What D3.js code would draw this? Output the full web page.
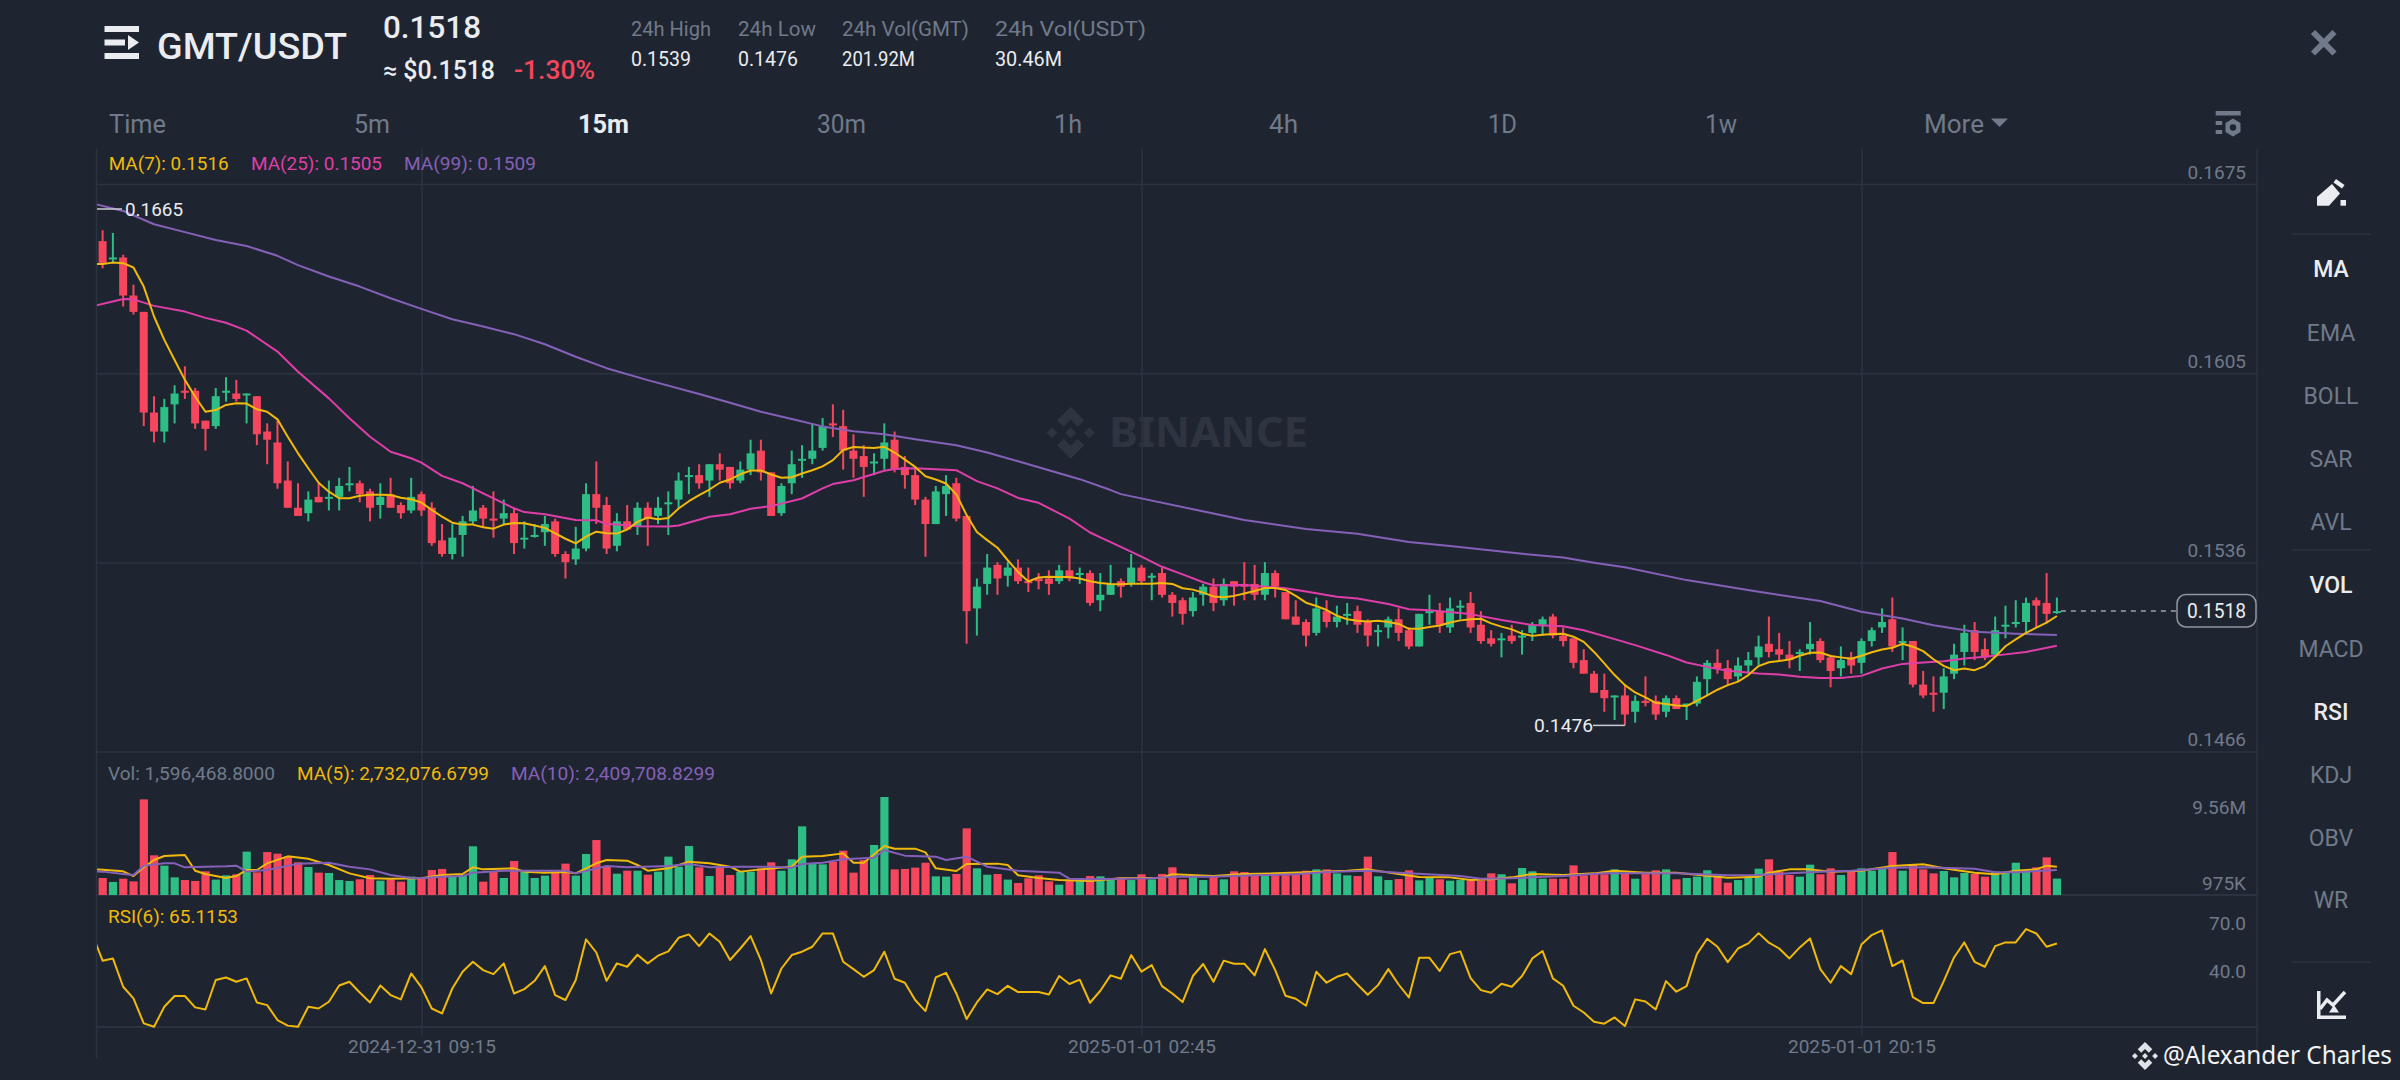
<!DOCTYPE html>
<html><head><meta charset="utf-8">
<script src="https://cdn.jsdelivr.net/npm/d3@7/dist/d3.min.js"></script>
<style>html,body{margin:0;padding:0;background:#1f2530;overflow:hidden}svg{display:block}</style>
</head><body>
<svg id="c" width="2400" height="1080"></svg>
<script>
const open=[
.1654,.1648,.1648,.1634,.1628,.1591,.1584,.1594,.1599,.1599,
.1588,.1586,.1599,.1598,.1598,.1597,.1584,.1580,.1566,.1556,
.1554,.1560,.1560,.1560,.1565,.1565,.1562,.1557,.1561,.1557,
.1555,.1561,.1556,.1544,.1539,.1546,.1551,.1556,.1552,.1552,
.1554,.1545,.1546,.1547,.1551,.1539,.1537,.1541,.1561,.1557,
.1542,.1551,.1549,.1556,.1553,.1558,.1559,.1568,.1568,.1566,
.1572,.1571,.1566,.1570,.1577,.1569,.1554,.1565,.1574,.1574,
.1578,.1587,.1586,.1577,.1575,.1573,.1574,.1581,.1571,.1568,
.1559,.1550,.1561,.1565,.1553,.1519,.1528,.1535,.1531,.1534,
.1529,.1530,.1530,.1529,.1533,.1532,.1532,.1522,.1524,.1529,
.1528,.1534,.1531,.1532,.1524,.1522,.1518,.1524,.1527,.1522,
.1529,.1528,.1528,.1524,.1532,.1525,.1516,.1514,.1510,.1518,
.1514,.1517,.1518,.1514,.1511,.1512,.1515,.1511,.1505,.1518,
.1518,.1512,.1520,.1521,.1513,.1508,.1508,.1509,.1509,.1510,
.1513,.1516,.1509,.1508,.1500,.1495,.1489,.1487,.1487,.1481,
.1485,.1485,.1481,.1486,.1484,.1484,.1493,.1499,.1497,.1494,
.1498,.1501,.1506,.1504,.1502,.1503,.1504,.1507,.1501,.1497,
.1501,.1499,.1507,.1512,.1515,.1507,.1507,.1491,.1488,.1488,
.1495,.1503,.1511,.1504,.1502,.1513,.1514,.1514,.1522,.1521,
.1518];
const close=[
.1646,.1648,.1634,.1628,.1591,.1584,.1593,.1598,.15989,.1587,
.1585,.1597,.1599,.1596,.1598,.1583,.1581,.1565,.1556,.1553,
.1559,.1558,.1560,.1564,.1565,.1561,.1556,.1560,.1556,.1554,
.1560,.1555,.1543,.1539,.1545,.1551,.1555,.1552,.15519,.1554,
.1543,.1545,.1546,.1550,.1539,.1536,.1541,.1561,.1556,.1541,
.1551,.1548,.1556,.1552,.1556,.1558,.1566,.1568,.1565,.1572,
.1570,.1565,.1570,.1576,.1569,.1553,.1564,.1572,.1574,.1577,
.1586,.15869,.1577,.1574,.1571,.1573,.1580,.1570,.1568,.1559,
.1550,.1562,.1564,.1552,.1518,.1527,.1534,.1530,.1534,.1529,
.15289,.1529,.1528,.1533,.1530,.1532,.1521,.1524,.1528,.1527,
.1534,.1529,.1531,.1524,.1521,.1517,.1523,.1527,.1521,.1528,
.1527,.1527,.1524,.1532,.1527,.1515,.1513,.1509,.1519,.1514,
.1516,.1517,.1513,.1509,.1511,.1515,.1510,.1505,.1517,.1518,
.1513,.1519,.1520,.1512,.1507,.1506,.1508,.1507,.1509,.1513,
.1515,.1509,.1507,.1499,.1495,.1488,.1486,.1487,.1480,.1485,
.14849,.1480,.1486,.1482,.1484,.1492,.1499,.1497,.1493,.1498,
.1500,.1505,.1503,.1502,.1500,.1503,.1506,.1500,.1496,.1500,
.1498,.1507,.1511,.1514,.1505,.1507,.1491,.1487,.14879,.1494,
.1502,.1510,.1503,.1501,.1511,.1513,.1514,.1521,.1520,.1517,
.1518];
const high=[
.1658,.1657,.1649,.1638,.1628,.1597,.1596,.1601,.1608,.1600,
.1588,.1600,.1604,.1603,.1598,.1597,.1587,.1588,.1573,.1565,
.1562,.1565,.1566,.1567,.1571,.1566,.1563,.1565,.1567,.1558,
.1567,.1562,.1558,.1550,.1550,.1553,.1564,.1557,.1562,.1559,
.1556,.1551,.1550,.1553,.1552,.1540,.1549,.1565,.1573,.1560,
.1554,.1557,.1558,.1558,.1560,.1562,.1569,.1571,.1572,.1572,
.1576,.1571,.1573,.1581,.1581,.1569,.1565,.1577,.1579,.1587,
.1589,.1594,.1592,.1583,.1579,.1576,.1587,.1584,.1575,.1571,
.1560,.1564,.1568,.1567,.1553,.1530,.1539,.1536,.1536,.1537,
.1534,.1532,.1533,.1535,.1542,.1534,.1533,.1532,.1535,.1530,
.1539,.1535,.1532,.1534,.1525,.1523,.1525,.1528,.1530,.1530,
.1529,.1536,.1535,.1536,.1533,.1525,.1522,.1515,.1523,.1522,
.1520,.1521,.1520,.1515,.1513,.1516,.1519,.1512,.1517,.1524,
.1521,.1523,.1522,.1525,.1518,.1511,.1510,.1513,.1511,.1514,
.1516,.1517,.1512,.1508,.1504,.1496,.1495,.1487,.1491,.1487,
.1494,.1487,.1487,.1487,.1484,.1494,.1500,.1504,.1500,.1501,
.1503,.1509,.1516,.1510,.1507,.1504,.1514,.1508,.1502,.1505,
.1503,.1508,.1512,.1519,.1523,.1512,.1507,.1496,.1494,.1497,
.1506,.1513,.1514,.1508,.1516,.1520,.1522,.1523,.1523,.1532,
.1523];
const low=[
.1644,.1646,.1630,.1627,.1586,.1580,.1580,.1587,.1596,.1585,
.1577,.1585,.1595,.1595,.1587,.1579,.1572,.1563,.1556,.1553,
.1551,.1558,.1555,.1555,.1562,.1558,.1551,.1552,.1556,.1552,
.1554,.1553,.1542,.1538,.1537,.1538,.1550,.1549,.1545,.1550,
.1539,.1541,.1545,.1542,.1538,.1530,.1535,.1540,.1550,.1539,
.1540,.1548,.1546,.1542,.1550,.1546,.1556,.1561,.1563,.1560,
.1566,.1563,.1565,.1568,.1566,.1553,.1553,.1561,.1567,.1572,
.1577,.1582,.1570,.1567,.1560,.1568,.1570,.1569,.1563,.1557,
.1538,.1550,.1553,.1551,.1506,.1509,.1524,.1524,.1527,.1528,
.1525,.1526,.1524,.1528,.1529,.1528,.1520,.1518,.1524,.1523,
.1527,.1528,.1522,.1523,.1516,.1513,.1516,.1520,.1518,.1520,
.1520,.1522,.1522,.1522,.1523,.1515,.1513,.1505,.1509,.1512,
.1512,.1513,.1510,.1505,.1505,.1508,.1507,.1504,.1505,.1513,
.1510,.1510,.1515,.1510,.1506,.1505,.1501,.1506,.1502,.1507,
.1509,.1508,.1505,.1497,.1495,.1488,.1481,.1478,.1476,.1477,
.1483,.1478,.1479,.1482,.1478,.1483,.1487,.1495,.1491,.1492,
.1495,.1498,.1501,.1500,.1497,.1496,.1502,.1499,.1490,.1494,
.1495,.1495,.1505,.1510,.1503,.1500,.1490,.1486,.1481,.1482,
.1493,.1498,.1500,.1500,.1501,.1508,.1512,.1510,.1512,.1514,
.1517];
// MA(7) per candle, first entry is the candle just off the left edge
const ma7=[.16456,
.16456,.16461,.16459,.16443,.16373,.16263,.16177,.16103,.1603,.15968,
.15913,.15919,.15938,.15944,.15943,.15922,.15913,.15885,.15821,.1576,
.15705,.15652,.15619,.15595,.15595,.15604,.15608,.15608,.15607,.15597,
.15591,.15579,.15552,.15527,.15505,.15498,.15498,.15488,.15483,.15498,
.15504,.15503,.15495,.15486,.15466,.15446,.15429,.15454,.15472,.15466,
.15465,.1548,.15508,.15524,.15518,.15522,.15557,.15584,.15606,.15627,
.15652,.15664,.15683,.15697,.15697,.15682,.1567,.15672,.15686,.15698,
.15712,.15735,.15772,.15783,.15781,.1578,.15784,.15763,.15737,.1571,
.15676,.15664,.15649,.15609,.15533,.15471,.15441,.15413,.15367,.15324,
.15289,.15304,.15306,.15305,.15305,.153,.1529,.15283,.1528,.15279,
.15281,.15281,.15281,.15283,.1528,.15264,.15259,.15248,.15234,.15231,
.15236,.15245,.15254,.15265,.15265,.15258,.15236,.15211,.15199,.15184,
.15163,.1515,.15145,.15142,.15145,.1514,.15133,.15115,.15115,.15122,
.15127,.15138,.15146,.1515,.15152,.15135,.15123,.15113,.15097,.15089,
.15093,.15096,.15097,.15086,.15067,.1503,.14988,.14945,.14908,.14881,
.14863,.14843,.14839,.14833,.14831,.1485,.1487,.14891,.14908,.14921,
.14945,.14978,.14992,.14997,.15002,.15016,.15027,.15028,.15015,.1501,
.15005,.15016,.15029,.15039,.15045,.1506,.15049,.15033,.15003,.14979,
.14963,.14969,.14963,.14978,.15012,.15051,.15076,.151,.15119,.15138,
.15162];
const ma25Index=[-1,2,3,5,8,10,12,14,17,19,22,24,26,28,30,31,33,35,37,40,41,43,46,48,49,50,52,55,56,59,61,63,65,68,70,71,73,76,77,79,83,85,87,89,91,94,96,97,99,101,103,105,107,108,111,115,117,120,122,125,127,129,133,136,139,142,144,146,149,152,154,156,158,161,163,165,167,169,171,173,175,177,179,181,183,185,187,190];
const ma25=[.1630,.16327,.16326,.16302,.16281,.16258,.1624,.16211,.16134,.1606,.15962,.15889,.15821,.15766,.15742,.15726,.15677,.1565,.15613,.15558,.15544,.15536,.15515,.15514,.155,.15498,.15492,.15491,.15495,.15527,.15536,.15556,.15566,.15594,.15631,.15647,.15661,.15696,.15702,.15705,.15698,.15658,.15631,.15596,.15578,.1552,.15469,.15451,.15416,.1538,.15343,.15315,.15286,.15275,.15276,.15264,.15252,.15233,.15226,.15206,.15187,.15183,.15169,.15147,.15129,.15124,.1511,.15088,.15055,.15019,.14991,.14975,.14961,.14951,.14947,.14939,.14934,.14934,.14942,.14969,.14986,.14991,.14996,.15006,.15012,.15021,.1503,.15053];
const ma99Index=[-1,2,5,8,11,14,17,19,22,25,28,31,34,37,40,43,46,49,53,58,61,64,67,70,73,76,79,83,86,89,92,95,98,99,111,117,122,127,131,138,142,145,148,154,161,167,171,175,178,182,186,190];
const ma99=[.16679,.16651,.16602,.16573,.16544,.16522,.16486,.16452,.1641,.16373,.1633,.16291,.16253,.16226,.16198,.16161,.16115,.16073,.16029,.15978,.15946,.15913,.15886,.15859,.15841,.1583,.15812,.1579,.15763,.15731,.15698,.15665,.15625,.1561,.15515,.15482,.15464,.15434,.15419,.15391,.15377,.15358,.15341,.15294,.15251,.15217,.15178,.15153,.15128,.15104,.15097,.15092];
const volumeM=[
1.66,1.27,1.59,1.33,9.33,3.87,2.86,1.72,1.46,1.37,
2.31,1.50,1.92,2.02,4.23,2.21,4.19,4.03,3.74,3.19,
2.73,2.18,2.15,1.46,1.37,1.53,1.95,1.40,1.53,1.30,
1.79,1.59,2.44,2.54,1.79,1.95,4.75,1.30,2.28,1.66,
3.32,2.28,1.66,1.89,2.21,3.06,1.89,4.00,5.36,2.76,
2.08,2.37,2.37,1.98,2.28,3.74,2.76,4.78,2.70,1.85,
2.76,1.95,2.28,2.28,2.60,3.19,2.37,3.48,6.70,3.02,
2.99,3.25,4.32,2.18,3.41,4.88,9.56,2.50,2.54,2.67,
3.15,1.82,1.79,2.05,6.50,2.60,1.98,2.05,1.50,1.17,
1.63,1.92,1.33,1.01,1.43,1.40,1.85,1.82,1.63,1.72,
1.46,2.02,1.53,2.05,2.70,1.53,1.79,1.46,1.79,1.53,
2.31,2.24,1.92,2.05,2.11,2.24,2.05,2.37,2.50,2.50,
2.11,1.92,1.85,3.74,1.82,1.46,1.56,2.41,1.43,1.76,
1.53,1.40,1.46,1.40,1.40,2.11,2.02,1.14,2.63,2.31,
1.59,1.59,1.59,2.89,1.92,2.11,2.02,2.50,2.11,1.59,
2.11,2.41,2.50,1.53,1.66,1.79,2.41,1.85,1.20,1.46,
1.66,2.57,3.48,2.28,1.95,1.79,2.96,2.02,2.60,1.95,
2.37,2.60,2.37,2.73,4.19,2.37,2.93,2.50,2.11,2.34,
1.72,2.15,2.05,1.79,2.28,2.18,3.15,2.37,2.70,3.67,
1.60];
const volMa5Index=[-1,0,2,3,4,5,6,8,9,10,12,13,14,15,16,18,20,22,24,26,28,31,33,35,36,37,40,41,43,45,46,48,49,51,52,53,55,57,59,61,62,64,67,68,70,72,73,74,76,77,79,80,81,83,84,87,88,89,91,93,96,99,103,104,108,111,114,117,121,123,126,128,131,133,135,137,139,142,145,147,150,153,158,161,162,164,166,168,171,174,177,179,182,184,186,188,189,190];
const volMa5=[2.5,2.47,2.31,1.85,2.70,3.41,3.80,3.90,2.37,2.05,1.66,1.85,2.44,2.44,3.09,3.77,3.54,2.93,2.11,1.63,1.59,1.63,1.95,2.05,2.70,2.50,2.60,2.28,2.18,2.24,2.11,3.09,3.41,3.35,2.93,2.37,2.60,3.25,3.09,2.76,2.28,2.50,2.76,3.74,3.80,4.06,3.15,3.15,4.78,4.52,4.52,4.16,2.60,2.34,3.02,3.06,2.93,1.92,1.66,1.46,1.37,1.63,1.69,2.02,1.85,2.05,2.11,2.21,2.37,2.50,2.05,1.76,1.72,1.46,1.53,1.72,2.05,1.95,2.11,2.37,2.18,2.18,1.69,1.79,2.18,2.50,2.50,2.28,2.37,2.83,2.99,2.60,2.18,2.02,2.37,2.50,2.86,2.76];
const volMa10Index=[-1,0,2,3,4,6,7,8,12,13,14,16,19,22,24,26,28,30,31,33,35,36,39,41,45,46,49,51,55,57,59,62,65,67,68,70,72,75,76,78,81,82,84,86,89,93,94,96,102,104,108,112,116,119,123,126,132,134,137,139,142,146,150,153,158,161,164,167,170,174,177,182,184,186,188,190];
const volMa10=[2.3,2.28,2.05,1.95,2.86,3.09,3.09,2.70,2.80,2.86,2.28,2.44,3.06,3.15,2.76,2.50,1.95,1.66,1.63,1.79,1.85,2.18,2.37,2.37,2.37,2.11,2.83,2.70,2.83,3.02,2.70,2.76,2.76,2.67,3.02,3.15,3.48,3.64,4.39,3.84,3.74,3.41,3.74,2.76,2.37,2.18,1.59,1.53,1.63,1.79,1.79,1.92,2.02,2.24,2.37,2.18,1.85,1.59,1.63,1.72,1.85,2.11,2.11,2.11,1.92,1.95,2.11,2.28,2.37,2.67,2.70,2.57,2.21,2.21,2.34,2.44];
// RSI(6) per candle, first entry is the candle just off the left edge
const rsi6=[70.8,
54.4,55.8,38.1,30.8,15.2,13.1,25.6,32.3,32.3,25.2,
23.9,42.3,43.9,41.2,43.3,28.3,26.6,17.3,13.8,13.1,
25.6,24.5,28.7,38.9,41.2,34.5,28.3,38.9,32.9,30.2,
46.4,37.7,24.5,21.4,37,47.5,53.7,48.5,46,52.7,
33.9,36.6,41.8,51,32.9,29.8,42.3,67.7,59.5,41.8,
52.7,50.6,58.1,52.7,57.5,60.2,68.7,70.8,63.5,71.4,
66.2,54.8,62,69.8,54.8,33.9,49.5,57.9,60,63.1,
71.4,71.4,53.7,49.1,44.3,48.5,60,43.1,40.6,29.8,
22.9,43.9,46.8,33.9,17.9,28.3,36.4,33.5,38.7,34.8,
34.8,34.8,33.3,44.8,39.8,42.5,28.1,35.6,45.2,43.1,
57.9,47.5,51.6,38.5,33.9,28.5,44.8,52.3,41.2,54.4,
52.5,52.5,45.2,61.6,48.5,32.5,30.6,26.2,47.5,40.6,
44.3,46.4,39.5,33.1,39.1,49.1,39.5,31.4,56.2,56.2,
47.9,58.5,60.2,43.5,36,34.3,40,38.1,44.8,55.8,
60.4,43.3,38.7,26.2,22,16.2,15,18.9,13.5,30.2,
28.9,23.9,41.6,35,38.5,58.5,68.1,63.1,53.5,62,
65.2,71.6,65.6,62,55.8,62.7,68.3,49.1,40.6,51,
46,64.5,70.4,73.3,51,54.5,31.6,27.9,27.9,41.6,
56.4,65.8,53.7,50.6,63.5,65.8,65.8,74.1,71.4,63.1,
65.1];
const priceTicks=[.1675,.16054,.15359,.14664];
const volumeTicks=[9.56,.975];
const volumeTickLabels=["9.56M","975K"];
const rsiTicks=[70,40];
const timeTickIndex=[31,101,171];
const timeTickLabels=["2024-12-31 09:15","2025-01-01 02:45","2025-01-01 20:15"];
const periods=["Time","5m","15m","30m","1h","4h","1D","1w","More"];
const indicators=["MA","EMA","BOLL","SAR","AVL","VOL","MACD","RSI","KDJ","OBV","WR"];
const activeIndicators=["MA","VOL","RSI"];

const GREY="#707a8a",WHITE="#eaecef",RED="#f6465d",GREEN="#2ebd85",YEL="#f0b90b",PINK="#df3ea9",PUR="#8560b8",GRID="#2c3340",BG="#1f2530";
const FONT="Roboto, 'Noto Sans', sans-serif";
const svg=d3.select("#c");
svg.append("rect").attr("width",2400).attr("height",1080).attr("fill",BG);
const L=97,R=2257;
const x=d3.scaleLinear().domain([0,190]).range([102.6,102.6+190*720/70]);
const y=d3.scaleLinear().domain([.1675,.14664]).range([184,751.5]);
const yVol=d3.scaleLinear().domain([0,9.56]).range([895,797]);
const yRsi=d3.scaleLinear().domain([70,40]).range([935.7,983.7]);

function txt(px,py,s,o={}){
  const t=svg.append("text").attr("x",px).attr("y",py).text(s)
    .attr("font-family",o.family||FONT).attr("font-size",o.size||19)
    .attr("font-weight",o.weight||400).attr("fill",o.color||GREY)
    .attr("text-anchor",o.anchor||"start");
  if(o.w) t.attr("textLength",o.w).attr("lengthAdjust","spacingAndGlyphs");
  return t;
}
function logo(g,cx,cy,r,color){
  const n=g.append("g").attr("transform",`translate(${cx},${cy}) scale(${r})`).attr("fill",color);
  const d=(a,b,h)=>n.append("polygon").attr("points",`${a-h},${b} ${a},${b-h} ${a+h},${b} ${a},${b+h}`);
  d(0,0,.21);d(-.72,0,.21);d(.72,0,.21);
  n.append("polygon").attr("points","0,-1 .52,-.48 .27,-.23 0,-.5 -.27,-.23 -.52,-.48");
  n.append("polygon").attr("points","0,1 .52,.48 .27,.23 0,.5 -.27,.23 -.52,.48");
}

// watermark
logo(svg,1070.7,432.7,26,"#2e3440");
txt(1109,447,"BINANCE",{size:41,weight:700,color:"#2e3440",w:199,family:"'Noto Sans',Roboto,sans-serif"});

// frame
const frame=svg.append("g").attr("stroke",GRID).attr("stroke-width",1.5);
frame.append("line").attr("x1",L-.5).attr("x2",L-.5).attr("y1",149).attr("y2",1058);
frame.append("line").attr("x1",R).attr("x2",R).attr("y1",149).attr("y2",1058);

// axes
function clean(g){g.select(".domain").remove();g.selectAll("line").attr("stroke",GRID).attr("stroke-width",1.5);
  g.selectAll("text").attr("font-family",FONT).attr("font-size",19).attr("fill",GREY).attr("text-anchor","end").attr("x",2246-L);}
svg.append("g").attr("transform",`translate(${L},0)`)
  .call(d3.axisRight(y).tickValues(priceTicks).tickSize(R-L).tickFormat(d3.format(".4f")))
  .call(clean).call(g=>g.selectAll("text").attr("dy",0).attr("y",-6));
svg.append("g").attr("transform",`translate(${L},0)`)
  .call(d3.axisRight(yVol).tickValues(volumeTicks).tickSize(0).tickFormat((d,i)=>volumeTickLabels[i]))
  .call(clean).call(g=>g.selectAll("text").attr("dy",0).attr("y",(d,i)=>i==0?16:4));
svg.append("g").attr("transform",`translate(${L},0)`)
  .call(d3.axisRight(yRsi).tickValues(rsiTicks).tickSize(0).tickFormat(d3.format(".1f")))
  .call(clean).call(g=>g.selectAll("text").attr("dy",0).attr("y",-6));
svg.append("g").attr("stroke",GRID).attr("stroke-width",2).selectAll("line").data([yVol(0),1027]).join("line")
  .attr("x1",L).attr("x2",R).attr("y1",d=>d).attr("y2",d=>d);
svg.append("g").attr("transform","translate(0,1035)")
  .call(d3.axisBottom(x).tickValues(timeTickIndex).tickSize(-886).tickFormat((d,i)=>timeTickLabels[i]))
  .call(g=>{g.select(".domain").remove();g.selectAll("line").attr("stroke",GRID).attr("stroke-width",1.5);
    g.selectAll("text").attr("font-family",FONT).attr("font-size",19).attr("fill",GREY).attr("dy",0).attr("y",18);});

// candles
const idx=d3.range(open.length);
const col=i=>close[i]<open[i]?RED:GREEN;
const chart=svg.append("g");
chart.append("g").selectAll("rect").data(idx).join("rect")
  .attr("x",i=>x(i)-1).attr("width",2).attr("y",i=>y(high[i])).attr("height",i=>y(low[i])-y(high[i])).attr("fill",col);
chart.append("g").selectAll("rect").data(idx).join("rect")
  .attr("x",i=>x(i)-4).attr("width",8)
  .attr("y",i=>y(Math.max(open[i],close[i])))
  .attr("height",i=>Math.max(2,Math.abs(y(open[i])-y(close[i])))).attr("fill",col);

// volume bars
svg.append("g").selectAll("rect").data(idx).join("rect")
  .attr("x",i=>x(i)-4).attr("width",8.2).attr("y",i=>yVol(volumeM[i])).attr("height",i=>yVol(0)-yVol(volumeM[i])).attr("fill",col);

// lines
svg.append("defs").append("clipPath").attr("id","clip").append("rect").attr("x",L).attr("y",140).attr("width",R-L).attr("height",900);
const lines=svg.append("g").attr("clip-path","url(#clip)").attr("fill","none").attr("stroke-width",2).attr("stroke-linejoin","round");
function draw(ix,vals,sc,color,w){
  lines.append("path").attr("d",d3.line().x(d=>x(d[0])).y(d=>sc(d[1]))(d3.zip(ix,vals))).attr("stroke",color).attr("stroke-width",w||2);
}
const seq=a=>a.map((_,i)=>i-1);
draw(ma99Index,ma99,y,PUR);
draw(ma25Index,ma25,y,PINK);
draw(seq(ma7),ma7,y,YEL);
draw(volMa5Index,volMa5,yVol,YEL);
draw(volMa10Index,volMa10,yVol,PUR);
draw(seq(rsi6),rsi6,yRsi,YEL);

// high/low markers
const mark=svg.append("g").attr("stroke","#c9ccd2").attr("stroke-width",1.5);
mark.append("line").attr("x1",L).attr("x2",122).attr("y1",209).attr("y2",209);
mark.append("line").attr("x1",1593).attr("x2",x(148)).attr("y1",y(.1476)).attr("y2",y(.1476));
txt(125,215.5,"0.1665",{color:WHITE,size:19,w:58});
txt(1534,731.5,"0.1476",{color:WHITE,size:19,w:59});

// last price
const lastPrice=close[close.length-1];
svg.append("line").attr("x1",x(190)+4).attr("x2",2177).attr("y1",y(lastPrice)).attr("y2",y(lastPrice))
  .attr("stroke","#7d838e").attr("stroke-width",2).attr("stroke-dasharray","5 5");
svg.append("rect").attr("x",2177).attr("y",594.5).attr("width",79).attr("height",32.5).attr("rx",9)
  .attr("fill",BG).attr("stroke","#9096a0").attr("stroke-width",1.5);
txt(2216.5,618,"0.1518",{color:WHITE,size:21,anchor:"middle",w:59});

// legends
txt(108.7,170,"MA(7): 0.1516",{color:YEL,w:120});
txt(251,170,"MA(25): 0.1505",{color:PINK,w:131});
txt(404,170,"MA(99): 0.1509",{color:PUR,w:132});
txt(108,780,"Vol: 1,596,468.8000",{w:167});
txt(297,780,"MA(5): 2,732,076.6799",{color:YEL,w:192});
txt(511,780,"MA(10): 2,409,708.8299",{color:PUR,w:204});
txt(108,923,"RSI(6): 65.1153",{color:YEL,w:130});

// header
const ic=svg.append("g").attr("fill",WHITE);
ic.append("rect").attr("x",104.5).attr("y",26).attr("width",34.5).attr("height",6);
ic.append("rect").attr("x",104.5).attr("y",39.5).attr("width",20.5).attr("height",6);
ic.append("polygon").attr("points","128,35 139,42.5 128,50");
ic.append("rect").attr("x",104.5).attr("y",53).attr("width",34.5).attr("height",6);
txt(157,59,"GMT/USDT",{size:37,weight:500,color:WHITE,w:190});
txt(383,38,"0.1518",{size:32,weight:500,color:WHITE,w:98});
txt(383,79,"≈ $0.1518",{size:25,weight:500,color:WHITE,w:112});
txt(514,79,"-1.30%",{size:25,weight:500,color:RED,w:81});
[["24h High","0.1539",631,80,60],["24h Low","0.1476",738,78,60],["24h Vol(GMT)","201.92M",842,127,73],["24h Vol(USDT)","30.46M",995,151,67]]
 .forEach(d=>{txt(d[2],36,d[0],{size:21,w:d[3]});txt(d[2],66,d[1],{size:20,color:WHITE,w:d[4]});});

// period tabs
const tabPos=[[109,57],[354,36],[578,51],[817,49],[1054,28],[1269,29],[1488,29],[1705,32],[1924,60]];
periods.forEach((p,i)=>{const on=p=="15m";txt(tabPos[i][0],133,p,{size:26,color:on?WHITE:GREY,weight:on?700:400,w:tabPos[i][1]});});
svg.append("polygon").attr("points","1991,118.5 2008,118.5 1999.5,127").attr("fill",GREY);
const st=svg.append("g").attr("fill",GREY);
st.append("rect").attr("x",2215.7).attr("y",111).attr("width",25).attr("height",4.5);
st.append("rect").attr("x",2215.7).attr("y",121).attr("width",6.5).attr("height",4);
st.append("rect").attr("x",2215.7).attr("y",130).attr("width",6.5).attr("height",4);
st.append("polygon").attr("points","2233,118.5 2240.5,123 2240.5,132 2233,136.5 2225.5,132 2225.5,123");
st.append("circle").attr("cx",2233).attr("cy",127.5).attr("r",3.2).attr("fill",BG);
svg.append("path").attr("d","M2313,32 L2334.5,53.5 M2334.5,32 L2313,53.5").attr("stroke",GREY).attr("stroke-width",6).attr("fill","none");

// right menu
const indY=[277,341,404,467,530,593,657,720,783,846,908];
indicators.forEach((s,i)=>{const on=activeIndicators.includes(s);
  txt(2331,indY[i],s,{size:23,anchor:"middle",color:on?WHITE:GREY,weight:on?500:400});});
svg.append("g").attr("stroke",GRID).attr("stroke-width",1.5).selectAll("line").data([234,550,962]).join("line")
  .attr("x1",2292).attr("x2",2370).attr("y1",d=>d).attr("y2",d=>d);
const pen=svg.append("g").attr("fill",WHITE);
pen.append("polygon").attr("points","2317,205.7 2317,197 2332,184 2340,193.5 2329,205.7");
pen.append("polygon").attr("points","2336,179 2344.5,185 2342,188.5 2333.5,182.5");
pen.append("rect").attr("x",2340.5).attr("y",200).attr("width",5.5).attr("height",5.7);
const chi=svg.append("g").attr("fill",WHITE);
chi.append("rect").attr("x",2317).attr("y",991).attr("width",3.5).attr("height",28);
chi.append("rect").attr("x",2317).attr("y",1015.5).attr("width",29).attr("height",3.5);
chi.append("path").attr("d","M2320,1009 L2327,1000 L2333,1005 L2345,992").attr("stroke",WHITE).attr("stroke-width",3.5).attr("fill","none");
chi.append("polygon").attr("points","2334,1005 2329,1012.5 2339,1012.5");

// attribution
logo(svg,2145,1056,14,"#dfe2e7");
txt(2163,1064,"@Alexander Charles",{size:25,color:"#f2f3f5",w:229,family:"'Noto Sans',sans-serif"});
</script>
</body></html>
